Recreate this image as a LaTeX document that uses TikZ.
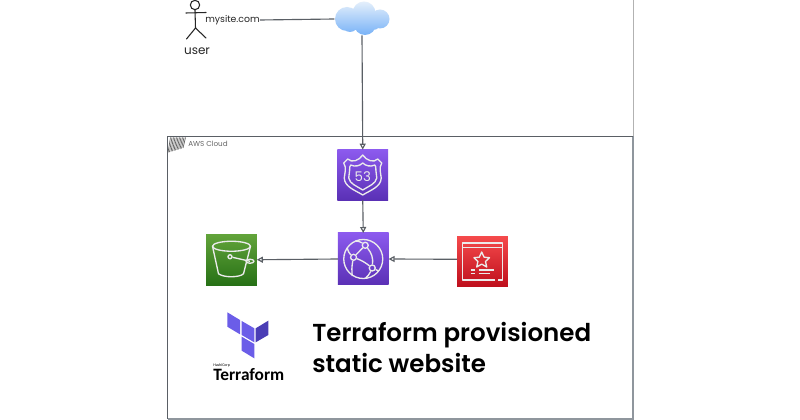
\documentclass[tikz,border=0pt]{standalone}
\usepackage{fontspec}
\setmainfont{Poppins}
\newfontfamily\logofont{Carlito}
\newfontfamily\titlefont{Poppins SemiBold}
\usetikzlibrary{arrows.meta}
\definecolor{linegray}{HTML}{5A5F65}
\definecolor{edgegray}{HTML}{8F969D}
\definecolor{tfviolet}{HTML}{6B5DE8}
\definecolor{tfdark}{HTML}{4A3DB5}
\definecolor{purpletop}{HTML}{8C5AEE}
\definecolor{purplebot}{HTML}{5A30B5}
\definecolor{greentop}{HTML}{62A43A}
\definecolor{greenbot}{HTML}{277116}
\definecolor{redtop}{HTML}{F54A4C}
\definecolor{redbot}{HTML}{BE0F1C}
\definecolor{cloudtop}{HTML}{E4EFFB}
\definecolor{cloudbot}{HTML}{78B2F7}
\tikzset{
  awsicon/.style={minimum width=38pt,minimum height=38pt,inner sep=0pt,outer sep=0pt},
  purpleicon/.style={awsicon,top color=purpletop,bottom color=purplebot},
  greenicon/.style={awsicon,top color=greentop,bottom color=greenbot},
  redicon/.style={awsicon,top color=redtop,bottom color=redbot},
  iconline/.style={draw=white!92!black,line width=1pt,line join=round},
  link/.style={draw=linegray,line width=0.85pt},
  arrowlink/.style={link,-{Triangle[open,length=4.5pt,width=4.5pt]}},
  sketch/.style={draw=black!85,line width=0.8pt,line cap=round},
  hatch/.style={draw=black!60,line width=0.55pt},
}
\begin{document}
\begin{tikzpicture}[x=0.75pt,y=-0.75pt]
\path[use as bounding box,fill=white] (0,0) rectangle (800,420);

\draw[draw=black!30,line width=0.7pt] (633,0) -- (633,136);
\draw[draw=edgegray,line width=1pt] (633,136.5) -- (633,419) -- (167.5,419);
\draw[draw=linegray,line width=0.9pt] (167.5,419) -- (167.5,136.5) -- (633,136.5);
\foreach \i in {1.5,3,...,16.5}
  \draw[hatch] (168+\i-1.5,153-\i*0.3) -- (168+\i+1,137.5);
\node (awslabel) [anchor=west,inner sep=0pt,text=black!60,font=\fontsize{5.4}{7}\selectfont] at (188,144) {AWS Cloud};

\node (userhead) [draw=black!85,circle,line width=0.8pt,minimum size=7pt,inner sep=0pt] at (195,5) {};
\draw[sketch] (userhead.south) -- (195.5,28);
\draw[sketch] (186,13) -- (206,12.5);
\draw[sketch] (186.5,39) -- (195.5,28) -- (206,38);
\node (user) [font=\fontsize{9}{10}\selectfont,text=black!85] at (197,51) {user};
\node (mysite) [anchor=west,font=\fontsize{7}{9}\selectfont,text=black!85,inner sep=0pt] at (205,20) {mysite.com};

\node (cloud) [minimum width=41pt,minimum height=24pt,inner sep=0pt] at (362,19) {};
\shade[top color=cloudtop,bottom color=cloudbot] (347,19) circle (12) (364,13) circle (11.5) (380,19) circle (9.5)
  (365,24) circle (11) (350,24) circle (8) (373,22) circle (8);

\node (r53) [purpleicon] at (362.75,175) {};
\node (cfront) [purpleicon,minimum height=39pt] at (363.25,259) {};
\node (bucket) [greenicon] at (231.5,259.75) {};
\node (cert) [redicon] at (482.5,261.5) {};

\begin{scope}[shift={(r53.center)}]
\draw[iconline] (-15,-16) .. controls (-11,-12) and (-4,-14) .. (0,-20) .. controls (4,-14) and (11,-12) .. (15,-16)
  -- (19,-12) .. controls (16,-7) and (18,-2) .. (18.5,3) .. controls (18,12) and (8,15) .. (0,20)
  .. controls (-8,15) and (-18,12) .. (-18.5,3) .. controls (-18,-2) and (-16,-7) .. (-19,-12) -- cycle;
\draw[iconline] (-12,-10) .. controls (-8,-8) and (-3,-9) .. (0,-12) .. controls (3,-9) and (8,-8) .. (12,-10)
  -- (13,-8) .. controls (13,-3) and (14,0) .. (14,3) .. controls (13,9) and (6,11) .. (0,15)
  .. controls (-6,11) and (-13,9) .. (-14,3) .. controls (-14,0) and (-13,-3) .. (-13,-8) -- cycle;
\node (r53num) [text=white!92!black,font=\fontsize{10}{12}\selectfont] at (0,1.5) {53};
\end{scope}

\begin{scope}[shift={(cfront.center)}]
\draw[iconline] (0,0) circle (19.5);
\node (edgeA) [iconline,circle,minimum size=4.5pt,inner sep=0pt] at (2,-13.7) {};
\node (edgeB) [iconline,circle,minimum size=4.5pt,inner sep=0pt] at (-9.7,-1.7) {};
\node (edgeC) [iconline,circle,minimum size=4.5pt,inner sep=0pt] at (9,9) {};
\draw[iconline] (edgeB) -- (edgeA);
\draw[iconline] (edgeB) to[bend left=8] (edgeC);
\draw[iconline] (edgeA) to[bend left=22] (edgeC);
\draw[iconline] (edgeB) to[bend right=8] (-11,17);
\draw[iconline] (edgeB) to[bend left=15] (-16,-11);
\draw[iconline] (edgeA) to[bend right=15] (-8,-18);
\draw[iconline] (edgeC) to[bend left=10] (2,19.5);
\draw[iconline] (edgeC) -- (15.5,12);
\end{scope}

\begin{scope}[shift={(bucket.center)}]
\draw[iconline] (0,-13.5) ellipse (19 and 5);
\draw[iconline] (-19,-13.5) -- (-13,14) .. controls (-8,18) and (8,18) .. (12,14) -- (19,-13.5);
\node (pin) [iconline,circle,minimum size=3pt,inner sep=0pt] at (-1.5,-3) {};
\draw[iconline] (pin) -- (18.5,1.5);
\draw[iconline] (18.5,1.5) ellipse (4 and 2);
\end{scope}

\begin{scope}[shift={(cert.center)}]
\draw[iconline] (12.5,18.5) -- (-20,18.5) -- (-20,-18.5) -- (20,-18.5) -- (20,18.5) -- (15.5,18.5);
\draw[iconline] (-20,-14) -- (20,-14);
\draw[iconline] (-0.8,-9.5) -- (1.6,-4.3) -- (7,-3.8) -- (3,0) -- (4.2,5.5) -- (-0.8,2.6) -- (-5.8,5.5) -- (-4.6,0) -- (-8.6,-3.8) -- (-3.2,-4.3) -- cycle;
\draw[iconline] (-12,8.5) -- (-7.5,8.5) (-4,8.5) -- (11,8.5);
\draw[iconline] (-12,12) -- (-7.5,12) (-4,12) -- (7,12);
\end{scope}

\draw[link] (mysite.east) -- (cloud.west);
\draw[arrowlink] (cloud.south) -- (r53.north);
\draw[arrowlink] (r53.south) -- (cfront.north);
\draw[arrowlink] (cfront.west) -- (bucket.east);
\draw[arrowlink] (cert.175) -- (cfront.east);

\fill[tfviolet] (227.3,312.3) -- (240,320) -- (240,334.3) -- (227.3,326.7) -- cycle;
\fill[tfviolet] (241.7,321) -- (254.3,328.3) -- (254.3,342.3) -- (241.7,335) -- cycle;
\fill[tfdark] (255.7,328.3) -- (268.3,320.7) -- (268.3,335) -- (255.7,342.3) -- cycle;
\fill[tfviolet] (241.7,336.7) -- (254.3,344) -- (254.3,358.3) -- (241.7,350.7) -- cycle;
\node (hashicorp) [anchor=west,inner sep=0pt,font=\logofont\fontsize{3}{4}\selectfont] at (213,365) {HashiCorp};
\node (tflogo) [anchor=west,inner sep=0pt,font=\logofont\bfseries\fontsize{13}{16}\selectfont] at (213,375) {Terraform};

\node (title) [anchor=north west,inner sep=0pt,align=left,font=\titlefont\fontsize{18.4}{23.3}\selectfont] at (312,322) {Terraform provisioned\\static website};
\end{tikzpicture}
\end{document}
